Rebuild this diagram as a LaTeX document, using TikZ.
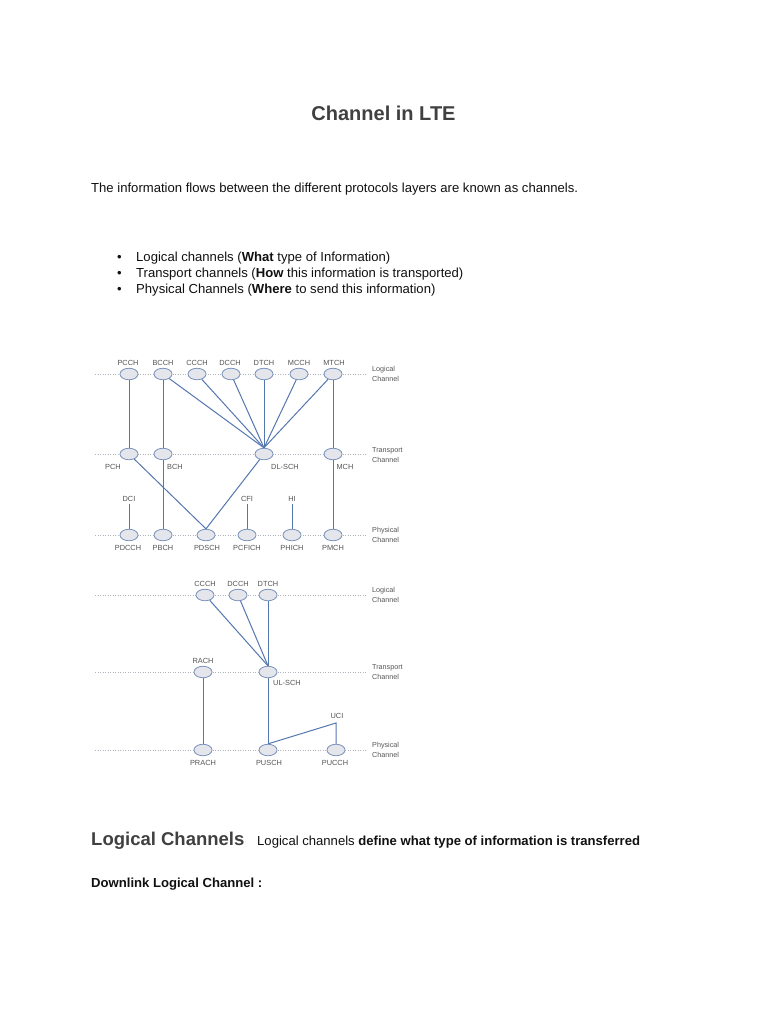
\documentclass[tikz,border=0pt]{standalone}
\usepackage{fontspec}
\setmainfont{Liberation Sans}
\usetikzlibrary{shapes.geometric}
\definecolor{connc}{HTML}{5577B0}
\definecolor{ellb}{HTML}{7C93BC}
\definecolor{ellf}{HTML}{E4E6EC}
\definecolor{guidec}{HTML}{B0B4BC}
\definecolor{lblc}{HTML}{555555}
\definecolor{titlec}{HTML}{404040}
\definecolor{bodyc}{HTML}{111111}
\begin{document}
\begin{tikzpicture}[x=1pt,y=-1pt,
 chn/.style={ellipse, draw=ellb, fill=ellf, line width=0.8pt, minimum width=18pt, minimum height=11.5pt, inner sep=0pt},
 lbl/.style={font=\fontsize{7.4}{8}\selectfont, text=lblc, inner sep=0pt, outer sep=2pt},
 side/.style={font=\fontsize{7.2}{10}\selectfont, text=lblc, inner sep=0pt, anchor=west, align=left},
 link/.style={draw=connc, line width=1pt},
 guide/.style={draw=guidec, dotted, line width=0.5pt},
 body/.style={font=\fontsize{13.1}{15}\selectfont, text=bodyc, anchor=base west, inner sep=0pt}]
\useasboundingbox[fill=white] (0,0) rectangle (768,1024);

% texts
\node[font=\bfseries\fontsize{20}{24}\selectfont, text=titlec, anchor=base, inner sep=0pt] (title) at (383.5,121) {Channel in LTE};
\node[body] (intro) at (91,193) {The information flows between the different protocols layers are known as channels.};
\node[body] (b1) at (117,261) {•};
\node[body] (t1) at (136,261) {Logical channels (\textbf{What} type of Information)};
\node[body] (b2) at (117,277) {•};
\node[body] (t2) at (136,277) {Transport channels (\textbf{How} this information is transported)};
\node[body] (b3) at (117,293) {•};
\node[body] (t3) at (136,293) {Physical Channels (\textbf{Where} to send this information)};

% diagram 1 guides
\draw[guide] (95,374) coordinate (g1a) -- (367,374) coordinate (g1b);
\draw[guide] (95,454) coordinate (g2a) -- (367,454) coordinate (g2b);
\draw[guide] (95,535) coordinate (g3a) -- (367,535) coordinate (g3b);
\node[side] (s1) at (372,374) {Logical\\Channel};
\node[side] (s2) at (372,455) {Transport\\Channel};
\node[side] (s3) at (372,535) {Physical\\Channel};

% logical
\node[chn] (pcch) at (129,374) {};
\node[chn] (bcch) at (163,374) {};
\node[chn] (ccch) at (197,374) {};
\node[chn] (dcch) at (231,374) {};
\node[chn] (dtch) at (264,374) {};
\node[chn] (mcch) at (299,374) {};
\node[chn] (mtch) at (333,374) {};
\node[lbl] at (128,363) {PCCH};
\node[lbl] at (163,363) {BCCH};
\node[lbl] at (197,363) {CCCH};
\node[lbl] at (230,363) {DCCH};
\node[lbl] at (264,363) {DTCH};
\node[lbl] at (299,363) {MCCH};
\node[lbl] at (334,363) {MTCH};
% transport
\node[chn] (pch) at (129,454) {};
\node[chn] (bch) at (163,454) {};
\node[chn] (dlsch) at (264,454) {};
\node[chn] (mch) at (333,454) {};
\node[lbl] at (113,467) {PCH};
\node[lbl] at (175,467) {BCH};
\node[lbl] at (285,467) {DL-SCH};
\node[lbl] at (345,467) {MCH};
% physical
\node[lbl] (dci) at (129,499) {DCI};
\node[lbl] (cfi) at (247,499) {CFI};
\node[lbl] (hi) at (292,499) {HI};
\node[chn] (pdcch) at (129,535) {};
\node[chn] (pbch) at (163,535) {};
\node[chn] (pdsch) at (206,535) {};
\node[chn] (pcfich) at (247,535) {};
\node[chn] (phich) at (292,535) {};
\node[chn] (pmch) at (333,535) {};
\node[lbl] at (128,548) {PDCCH};
\node[lbl] at (163,548) {PBCH};
\node[lbl] at (207,548) {PDSCH};
\node[lbl] at (247,548) {PCFICH};
\node[lbl] at (292,548) {PHICH};
\node[lbl] at (333,548) {PMCH};

\draw[link] (pcch) -- (pch);
\draw[link] (bcch) -- (bch);
\draw[link] (bch) -- (pbch);
\draw[link] (bcch) -- (dlsch.north);
\draw[link] (ccch) -- (dlsch.north);
\draw[link] (dcch) -- (dlsch.north);
\draw[link] (dtch) -- (dlsch.north);
\draw[link] (mcch) -- (dlsch.north);
\draw[link] (mtch) -- (dlsch.north);
\draw[link] (mtch) -- (mch);
\draw[link] (mch) -- (pmch);
\draw[link] (pch) -- (pdsch.north);
\draw[link] (dlsch) -- (pdsch.north);
\draw[link] (dci) -- (pdcch);
\draw[link] (cfi) -- (pcfich);
\draw[link] (hi) -- (phich);

% diagram 2 guides
\draw[guide] (95,595) coordinate (h1a) -- (367,595) coordinate (h1b);
\draw[guide] (95,672) coordinate (h2a) -- (367,672) coordinate (h2b);
\draw[guide] (95,750) coordinate (h3a) -- (367,750) coordinate (h3b);
\node[side] (u1) at (372,595) {Logical\\Channel};
\node[side] (u2) at (372,672) {Transport\\Channel};
\node[side] (u3) at (372,750) {Physical\\Channel};

\node[chn] (uccch) at (205,595) {};
\node[chn] (udcch) at (238,595) {};
\node[chn] (udtch) at (268,595) {};
\node[lbl] at (205,584) {CCCH};
\node[lbl] at (238,584) {DCCH};
\node[lbl] at (268,584) {DTCH};
\node[chn] (rach) at (203,672) {};
\node[chn] (ulsch) at (268,672) {};
\node[lbl] at (203,661) {RACH};
\node[lbl] at (287,683) {UL-SCH};
\node[lbl] (uci) at (337,716) {UCI};
\coordinate (ucij) at (336,723);
\node[chn] (prach) at (203,750) {};
\node[chn] (pusch) at (268,750) {};
\node[chn] (pucch) at (336,750) {};
\node[lbl] at (203,763) {PRACH};
\node[lbl] at (269,763) {PUSCH};
\node[lbl] at (335,763) {PUCCH};

\draw[link] (uccch) -- (ulsch.north);
\draw[link] (udcch) -- (ulsch.north);
\draw[link] (udtch) -- (ulsch.north);
\draw[link] (rach) -- (prach);
\draw[link] (ulsch) -- (pusch);
\draw[link] (pusch.north) -- (ucij) -- (pucch);

% bottom texts
\node[font=\bfseries\fontsize{18.5}{22}\selectfont, text=titlec, anchor=base west, inner sep=0pt] (lch) at (91,845) {Logical Channels};
\node[body] (lchdesc) at (257,845) {Logical channels \textbf{define what type of information is transferred}};
\node[body, font=\bfseries\fontsize{13.1}{15}\selectfont] (dl) at (91,887) {Downlink Logical Channel :};
\end{tikzpicture}
\end{document}
